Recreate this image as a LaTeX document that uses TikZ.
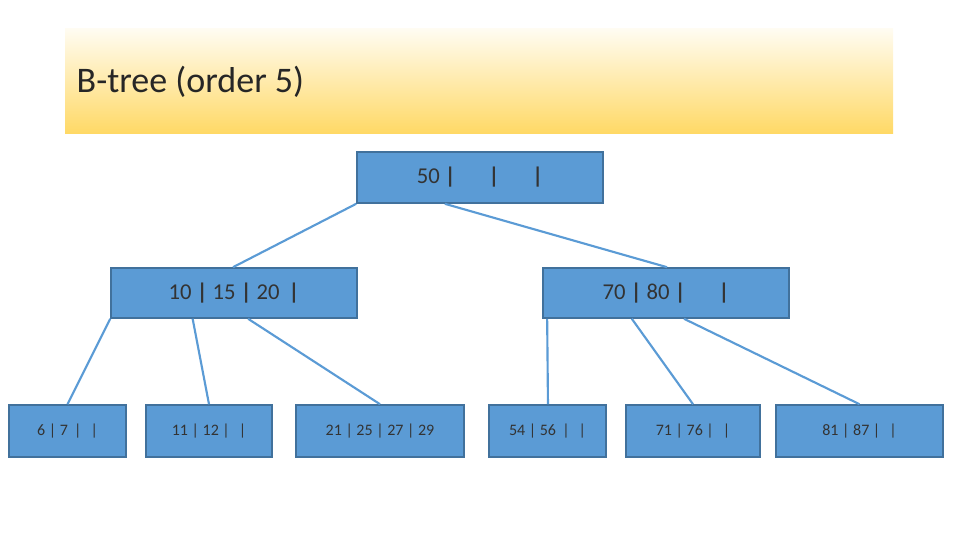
\documentclass[tikz,border=0pt]{standalone}
\usepackage{fontspec}
\setmainfont{Carlito}
\usetikzlibrary{calc}
\definecolor{nfill}{HTML}{5B9BD5}
\definecolor{nedge}{HTML}{41719C}
\definecolor{ban}{HTML}{FFD966}
\begin{document}
\begin{tikzpicture}[x=0.75pt,y=-0.75pt,
 box/.style={draw=nedge,line width=1.2pt,fill=nfill,text=black!80,inner sep=0pt},
 big/.style={box,font=\fontsize{17}{20}\selectfont},
 small/.style={box,font=\fontsize{12}{14}\selectfont},
 link/.style={draw=nfill,line width=1.6pt}]
\useasboundingbox (0,0) rectangle (960,540);
\shade[top color=ban!8,bottom color=ban] (65,28) rectangle (893,133);
\node[anchor=west,font=\fontsize{27}{32}\selectfont,text=black!85] (title) at (72,82) {B-tree (order 5)};
\node[big,minimum width=246*0.75pt,minimum height=51*0.75pt] (root) at (480,177.5) {50 \textbf{|}\quad\ \ \textbf{|}\quad\ \ \textbf{|}};
\node[big,minimum width=246*0.75pt,minimum height=50*0.75pt] (L) at (234,293) {10 \textbf{|} 15 \textbf{|} 20\, \textbf{|}};
\node[big,minimum width=246*0.75pt,minimum height=50*0.75pt] (R) at (666,293) {70 \textbf{|} 80 \textbf{|}\quad\ \ \textbf{|}};
\node[small,minimum width=117*0.75pt,minimum height=52*0.75pt] (a) at (67.5,431) {6 | 7 \,|\, \,|};
\node[small,minimum width=126*0.75pt,minimum height=52*0.75pt] (b) at (209,431) {11 | 12 | \,\,|};
\node[small,minimum width=168*0.75pt,minimum height=52*0.75pt] (c) at (380,431) {21 | 25 | 27 | 29};
\node[small,minimum width=117*0.75pt,minimum height=52*0.75pt] (d) at (547.5,431) {54 | 56 \,|\, \,|};
\node[small,minimum width=134*0.75pt,minimum height=52*0.75pt] (e) at (693,431) {71 | 76 | \,\,|};
\node[small,minimum width=167*0.75pt,minimum height=52*0.75pt] (f) at (859.5,431) {81 | 87 | \,\,|};
\draw[link] (root.south west) -- ($(L.north west)!0.496!(L.north east)$);
\draw[link] ($(root.south west)!0.358!(root.south east)$) -- ($(R.north west)!0.504!(R.north east)$);
\draw[link] (L.south west) -- (a.north);
\draw[link] ($(L.south west)!0.333!(L.south east)$) -- (b.north);
\draw[link] ($(L.south west)!0.557!(L.south east)$) -- (c.north);
\draw[link] ($(R.south west)!0.02!(R.south east)$) -- ($(d.north west)!0.504!(d.north east)$);
\draw[link] ($(R.south west)!0.362!(R.south east)$) -- (e.north);
\draw[link] ($(R.south west)!0.573!(R.south east)$) -- (f.north);
\end{tikzpicture}
\end{document}
